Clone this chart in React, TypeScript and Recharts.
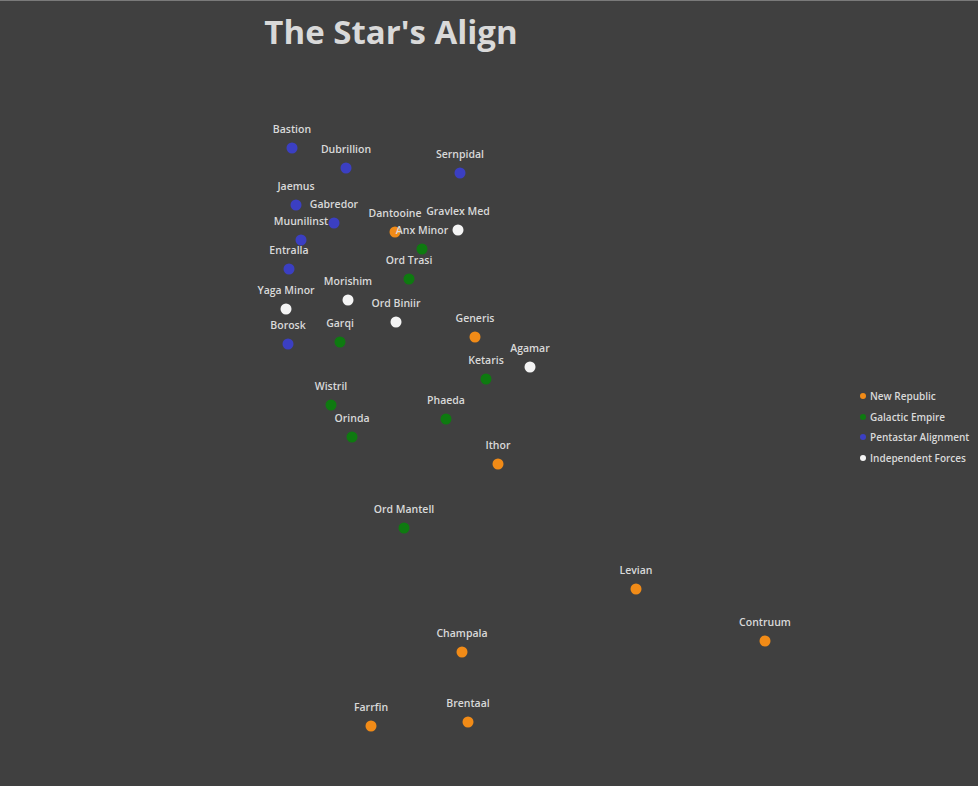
import React from 'react';
import { ScatterChart, Scatter, XAxis, YAxis, LabelList } from 'recharts';

// positions (x to the right, y downward)
const newRepublic = [
  { name: 'Dantooine', x: 395, y: 231 },
  { name: 'Generis', x: 475, y: 336 },
  { name: 'Ithor', x: 498, y: 463 },
  { name: 'Levian', x: 636, y: 588 },
  { name: 'Contruum', x: 765, y: 640 },
  { name: 'Champala', x: 462, y: 651 },
  { name: 'Brentaal', x: 468, y: 721 },
  { name: 'Farrfin', x: 371, y: 725 },
];

const galacticEmpire = [
  { name: 'Anx Minor', x: 422, y: 248 },
  { name: 'Ord Trasi', x: 409, y: 278 },
  { name: 'Garqi', x: 340, y: 341 },
  { name: 'Ketaris', x: 486, y: 378 },
  { name: 'Wistril', x: 331, y: 404 },
  { name: 'Phaeda', x: 446, y: 418 },
  { name: 'Orinda', x: 352, y: 436 },
  { name: 'Ord Mantell', x: 404, y: 527 },
];

const pentastar = [
  { name: 'Bastion', x: 292, y: 147 },
  { name: 'Dubrillion', x: 346, y: 167 },
  { name: 'Sernpidal', x: 460, y: 172 },
  { name: 'Jaemus', x: 296, y: 204 },
  { name: 'Gabredor', x: 334, y: 222 },
  { name: 'Muunilinst', x: 301, y: 239 },
  { name: 'Entralla', x: 289, y: 268 },
  { name: 'Borosk', x: 288, y: 343 },
];

const independent = [
  { name: 'Gravlex Med', x: 458, y: 229 },
  { name: 'Morishim', x: 348, y: 299 },
  { name: 'Yaga Minor', x: 286, y: 308 },
  { name: 'Ord Biniir', x: 396, y: 321 },
  { name: 'Agamar', x: 530, y: 366 },
];

const factions = [
  { name: 'New Republic', data: newRepublic, color: '#F18B17' },
  { name: 'Galactic Empire', data: galacticEmpire, color: '#0E7A10' },
  { name: 'Pentastar Alignment', data: pentastar, color: '#3B3FC2' },
  { name: 'Independent Forces', data: independent, color: '#F4F4F4' },
];

const FONT = '"Open Sans", "Liberation Sans", sans-serif';
const TEXT = '#D9D9D9';

const dot = (color: string) => (props: any) => (
  <circle cx={props.cx} cy={props.cy} r={5.5} fill={color} />
);

// label centred above the point, on one line
const nameLabel = (props: any) => {
  const { x, y, width, value } = props;
  return (
    <text x={x + width / 2} y={y - 10} textAnchor="middle" fill={TEXT} fontSize={10.5} fontWeight={600} fontFamily={FONT}>
      {value}
    </text>
  );
};

const FactionLegend = () => (
  <div style={{ position: 'absolute', left: 860, top: 385, fontFamily: FONT, fontSize: 10, fontWeight: 600, color: TEXT }}>
    {factions.map((f) => (
      <div key={f.name} style={{ display: 'flex', alignItems: 'center', height: 20.5 }}>
        <span style={{ width: 6, height: 6, borderRadius: 3, background: f.color, marginRight: 4 }} />
        {f.name}
      </div>
    ))}
  </div>
);

export default function App() {
  return (
    <div style={{ position: 'absolute', left: 0, top: 0, width: 978, height: 786, background: '#404040', borderTop: '1px solid #7a7a7a', boxSizing: 'border-box' }}>
      <div style={{ position: 'absolute', left: 0, width: 782, top: 8, textAlign: 'center', fontFamily: FONT, fontWeight: 700, fontSize: 33, color: TEXT }}>
        The Star's Align
      </div>
      <ScatterChart width={978} height={785} margin={{ top: 0, right: 0, bottom: 0, left: 0 }} style={{ position: 'absolute', top: 0, left: 0 }}>
        <XAxis type="number" dataKey="x" domain={[0, 978]} hide />
        <YAxis type="number" dataKey="y" domain={[0, 785]} reversed hide />
        {factions.map((f) => (
          <Scatter key={f.name} name={f.name} data={f.data} fill={f.color} shape={dot(f.color)} isAnimationActive={false}>
            <LabelList dataKey="name" content={nameLabel} />
          </Scatter>
        ))}
      </ScatterChart>
      <FactionLegend />
    </div>
  );
}
